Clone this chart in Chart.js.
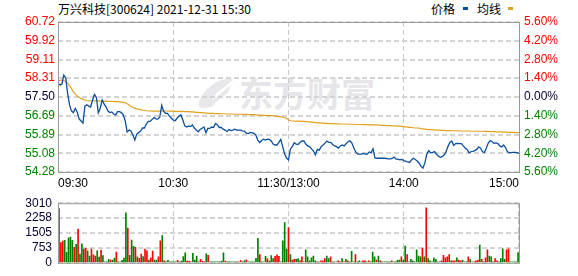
<!DOCTYPE html>
<html>
<head>
<meta charset="utf-8">
<script src="https://cdn.jsdelivr.net/npm/chart.js@4.4.1/dist/chart.umd.min.js"></script>
<style>
html,body{margin:0;padding:0;background:#fff;}
#wrap{position:relative;width:578px;height:276px;overflow:hidden;font-family:"Noto Sans CJK SC",sans-serif;}
#title{position:absolute;left:58px;top:1px;font-size:12px;line-height:16px;color:#000;white-space:nowrap;}
.lg{position:absolute;top:1px;font-size:12px;line-height:16px;color:#000;}
.sw{position:absolute;top:7px;width:5px;height:3px;}
#wm{position:absolute;left:239px;top:71px;font-size:34px;line-height:44px;font-weight:bold;color:#e6e6ea;white-space:nowrap;z-index:0;}
#logo{position:absolute;left:202px;top:79px;width:26px;height:29px;border-radius:80% 5% 70% 20%;background:#e8e8ec;transform:skewX(-20deg);z-index:0;overflow:hidden;}
#logo i{position:absolute;left:8px;width:24px;height:3px;background:#fff;border-radius:2px;transform:rotate(-50deg);}
canvas{position:absolute;left:0;z-index:1;}
</style>
</head>
<body>
<div id="wrap">
  <div id="logo"><i style="top:9px"></i><i style="top:16px;left:12px"></i></div>
  <div id="wm">东方财富</div>
  <div id="title">万兴科技[300624] 2021-12-31 15:30</div>
  <div class="lg" style="left:431px">价格</div>
  <div class="sw" style="left:463px;background:#0a4f9e"></div>
  <div class="lg" style="left:477px">均线</div>
  <div class="sw" style="left:508px;background:#e0a21c"></div>
  <canvas id="priceCanvas" width="578" height="190" style="top:0"></canvas>
  <canvas id="volCanvas" width="578" height="86" style="top:190px"></canvas>
</div>
<script>
// 坐标轴
const timeTicks = [0, 60, 120, 180, 240];
const timeLabels = ["09:30", "10:30", "11:30/13:00", "14:00", "15:00"];
const priceTicks = [54.28, 55.08, 55.89, 56.69, 57.50, 58.31, 59.11, 59.92, 60.72];
const priceLabels = ["54.28", "55.08", "55.89", "56.69", "57.50", "58.31", "59.11", "59.92", "60.72"];
const pctLabels = ["5.60%", "4.20%", "2.80%", "1.40%", "0.00%", "1.40%", "2.80%", "4.20%", "5.60%"];
const volTicks = [0, 753, 1505, 2258, 3010];
const volLabels = ["0", "753", "1505", "2258", "3010"];

// 分时价格 (每分钟)
const price = [
58.09,58.02,58.05,58.44,58.32,57.67,57.16,56.90,56.83,57.01,
56.86,56.56,56.47,56.38,57.11,57.17,57.11,57.07,57.37,57.61,
57.48,56.82,57.02,57.37,57.20,57.08,56.90,56.83,56.86,56.77,
56.73,56.87,56.87,56.83,56.73,56.47,56.00,56.08,56.04,55.87,
55.65,55.91,55.97,56.04,56.17,56.17,56.34,56.45,56.45,56.54,
56.62,56.56,56.55,56.64,57.14,56.88,56.80,56.80,56.68,56.60,
56.51,56.48,56.59,56.68,56.73,56.51,56.26,56.21,56.26,56.23,
56.30,56.17,56.08,56.01,56.11,56.16,56.21,55.97,56.15,56.15,
56.21,56.19,56.36,56.30,56.19,56.19,56.12,56.08,56.02,56.10,
56.06,56.08,56.12,56.08,56.08,56.08,56.05,56.04,55.95,55.93,
55.97,55.97,55.94,55.87,55.65,55.55,55.63,55.69,55.65,55.69,
55.68,55.61,55.48,55.44,55.44,55.55,55.68,55.36,55.05,54.88,
54.80,55.27,55.37,55.54,55.48,55.46,55.55,55.61,55.61,55.48,
55.40,55.37,55.27,55.18,55.02,55.25,55.22,55.37,55.44,55.52,
55.61,55.55,55.55,55.46,55.40,55.37,55.31,55.40,55.44,55.40,
55.50,55.58,55.62,55.52,55.31,55.14,55.05,55.05,55.05,55.08,
55.05,55.05,55.14,55.11,55.28,54.88,54.87,54.87,54.87,54.87,
54.87,54.86,54.84,54.84,54.86,54.92,54.83,54.83,54.80,54.82,
54.77,54.75,54.71,54.69,54.80,54.87,54.82,54.75,54.67,54.52,
54.45,54.67,55.05,55.20,55.11,55.11,55.16,55.05,54.97,54.91,
54.94,55.01,55.14,55.37,55.55,55.61,55.42,55.50,55.51,55.50,
55.50,55.40,55.31,55.25,55.10,55.15,55.17,55.20,55.25,55.36,
55.30,55.15,55.12,55.31,55.52,55.63,55.58,55.51,55.53,55.50,
55.40,55.36,55.44,55.33,55.15,55.11,55.11,55.12,55.12,55.11,
55.08
];

// 均价线
const avgPrice = [
58.16,58.22,58.23,58.21,58.16,58.09,57.98,57.87,57.72,57.62,
57.54,57.49,57.44,57.40,57.37,57.35,57.34,57.34,57.34,57.33,
57.33,57.33,57.32,57.32,57.32,57.32,57.31,57.31,57.31,57.30,
57.30,57.30,57.29,57.28,57.27,57.26,57.21,57.16,57.09,57.05,
57.02,56.99,56.98,56.96,56.94,56.93,56.91,56.90,56.90,56.89,
56.89,56.89,56.89,56.89,56.90,56.90,56.90,56.90,56.89,56.89,
56.89,56.88,56.88,56.88,56.88,56.88,56.87,56.87,56.87,56.86,
56.86,56.85,56.84,56.84,56.83,56.83,56.82,56.81,56.81,56.80,
56.80,56.80,56.79,56.79,56.79,56.78,56.78,56.78,56.77,56.77,
56.77,56.77,56.76,56.76,56.76,56.76,56.76,56.75,56.75,56.74,
56.74,56.74,56.74,56.73,56.72,56.72,56.71,56.71,56.71,56.70,
56.70,56.70,56.69,56.68,56.67,56.66,56.65,56.63,56.61,56.58,
56.52,56.48,56.47,56.47,56.46,56.46,56.46,56.45,56.45,56.44,
56.44,56.43,56.42,56.41,56.40,56.39,56.39,56.38,56.38,56.37,
56.37,56.36,56.36,56.36,56.35,56.35,56.35,56.34,56.34,56.34,
56.34,56.33,56.33,56.33,56.33,56.32,56.32,56.32,56.32,56.31,
56.31,56.31,56.31,56.30,56.30,56.30,56.30,56.29,56.29,56.28,
56.28,56.27,56.27,56.27,56.26,56.26,56.26,56.25,56.25,56.24,
56.23,56.22,56.21,56.20,56.19,56.18,56.17,56.17,56.16,56.14,
56.13,56.12,56.11,56.10,56.10,56.09,56.09,56.08,56.08,56.08,
56.07,56.07,56.06,56.06,56.06,56.05,56.05,56.05,56.05,56.04,
56.04,56.04,56.04,56.04,56.04,56.03,56.03,56.03,56.03,56.03,
56.03,56.03,56.02,56.02,56.02,56.01,56.01,56.01,56.00,56.00,
56.00,56.00,55.99,55.99,55.99,55.98,55.98,55.98,55.97,55.97,
55.97
];

// 成交量 (手)
const volume = [
2740,1026,1094,1134,527,1256,1296,1134,783,932,
1701,446,959,689,729,608,338,689,405,338,
608,284,648,365,54,54,176,135,135,243,
540,54,54,122,243,2525,1755,378,1148,837,
783,297,230,446,311,689,608,135,257,594,
140,140,297,1107,1377,95,40,122,40,40,
40,40,122,40,81,311,500,81,81,54,
473,135,338,54,176,81,40,459,378,40,
40,40,40,40,54,81,500,81,40,40,
40,40,40,54,40,108,40,108,149,40,
40,40,40,230,1242,419,40,40,324,203,
81,365,216,324,405,324,40,1107,2025,689,
1782,420,135,175,175,216,95,300,54,660,
300,95,256,337,95,54,54,95,95,216,
337,216,300,54,54,54,95,54,216,54,
175,95,54,580,54,420,54,95,54,95,
95,54,95,54,540,300,135,337,95,54,
54,54,54,54,95,54,54,135,135,300,
135,850,420,54,175,95,54,660,337,300,
740,300,2770,216,95,54,256,175,54,54,
95,378,256,300,420,95,95,95,256,135,
95,135,54,54,300,175,54,54,95,135,
900,175,54,256,660,337,300,54,216,95,
54,216,700,175,660,700,40,40,40,40,
500
];
// R = 上涨(红) G = 下跌(绿)
const volumeDir = (
  "GRRGGGGGRG" + "RGGRRGGRRR" + "GGRGGGGRGG" + "RGGGGGRGGG" + "RGRRGRRGRR" +
  "GGRRGRGGGG" + "GGRGGGGRRR" + "GGGGRRRGRG" + "GGGGGGGRGG" + "GGGRGRGGRG" +
  "GGGGGRGGGR" + "GGGRRRGGGG" + "RGRRGGRRGG" + "GGGGGRGRRR" + "GGRGGGRRGR" +
  "GRGGGRGGGR" + "RGRGGGRGRG" + "GGGGRGGGGR" + "GGRGGGGGGG" + "RGRGGGGGGG" +
  "RRRRRGRRGR" + "RGGGRGGRRR" + "GRGRRGGGRR" + "GGGGRRGGGG" + "G"
).split("");

const RED = "#ff0000", GREEN = "#008000", DARK = "#000033";
Chart.defaults.font.family = "'Liberation Sans', Arial, sans-serif";
Chart.defaults.font.size = 12;

const setTicks = vals => scale => { scale.ticks = vals.map(v => ({ value: v })); };
const pctColors = priceTicks.map((v, i) => i < 4 ? GREEN : (i > 4 ? RED : DARK));
// 虚线网格, 首尾那条被边框盖住
const xGrid = { display: true, color: "#c8c8c8", lineWidth: 1, drawTicks: false };
const yGrid = { display: true, color: "#d4d4d4", lineWidth: 2, drawTicks: false };
const dashBorder = { display: false, dash: [5, 3] };

const frame = {
    id: "frame",
    afterDraw(ch) {
        const a = ch.chartArea, ctx = ch.ctx;
        ctx.save();
        ctx.strokeStyle = "#999";
        ctx.lineWidth = 1;
        ctx.setLineDash([]);
        ctx.strokeRect(a.left + 0.5, a.top + 0.5, a.right - a.left, a.bottom - a.top);
        ctx.restore();
    }
};

new Chart(document.getElementById("priceCanvas"), {
    type: "line",
    data: {
        datasets: [
            { data: price.map((v, i) => ({ x: i, y: v })), borderColor: "#0a4f9e", borderWidth: 1.3, pointRadius: 0, tension: 0 },
            { data: avgPrice.map((v, i) => ({ x: i, y: v })), borderColor: "#e0a21c", borderWidth: 1.2, pointRadius: 0, tension: 0 }
        ]
    },
    options: {
        responsive: false, animation: false, events: [],
        layout: { padding: { top: 22, left: 0, right: 0, bottom: 0 } },
        plugins: { legend: { display: false }, tooltip: { enabled: false } },
        scales: {
            x: {
                type: "linear", min: 0, max: 240, offset: false,
                afterBuildTicks: setTicks(timeTicks),
                afterFit: s => { s.height = 18; },
                grid: xGrid, border: dashBorder,
                ticks: { callback: (v, i) => timeLabels[i], align: "inner", maxRotation: 0, autoSkip: false, padding: 4, color: "#000" }
            },
            y: {
                position: "left", min: 54.28, max: 60.72,
                afterBuildTicks: setTicks(priceTicks),
                afterFit: s => { s.width = 58; },
                grid: yGrid, border: dashBorder,
                ticks: { callback: (v, i) => priceLabels[i], autoSkip: false, padding: 3, color: pctColors }
            },
            y1: {
                position: "right", min: 54.28, max: 60.72,
                afterBuildTicks: setTicks(priceTicks),
                afterFit: s => { s.width = 59; },
                grid: { display: false, drawTicks: false },
                border: { display: false },
                ticks: { callback: (v, i) => pctLabels[i], autoSkip: false, padding: 5, color: pctColors }
            }
        }
    },
    plugins: [frame]
});

new Chart(document.getElementById("volCanvas"), {
    type: "bar",
    data: {
        datasets: [{
            data: volume.map((v, i) => ({ x: i, y: v })),
            backgroundColor: volumeDir.map(d => d === "R" ? RED : GREEN),
            borderWidth: 0, barThickness: 1, grouped: false
        }]
    },
    options: {
        responsive: false, animation: false, events: [],
        layout: { padding: { top: 6, left: 0, right: 59, bottom: 6 } },
        plugins: { legend: { display: false }, tooltip: { enabled: false } },
        scales: {
            x: {
                type: "linear", min: -0.5, max: 240.5, offset: false,
                afterBuildTicks: setTicks(timeTicks),
                afterFit: s => { s.height = 0; },
                grid: { ...xGrid, offset: false }, border: dashBorder,
                ticks: { display: false }
            },
            y: {
                min: 0, max: 3010,
                afterBuildTicks: setTicks(volTicks),
                afterFit: s => { s.width = 58; },
                grid: yGrid, border: dashBorder,
                ticks: { callback: (v, i) => volLabels[i], autoSkip: false, padding: 6, color: DARK }
            }
        }
    },
    plugins: [frame]
});
</script>
</body>
</html>
